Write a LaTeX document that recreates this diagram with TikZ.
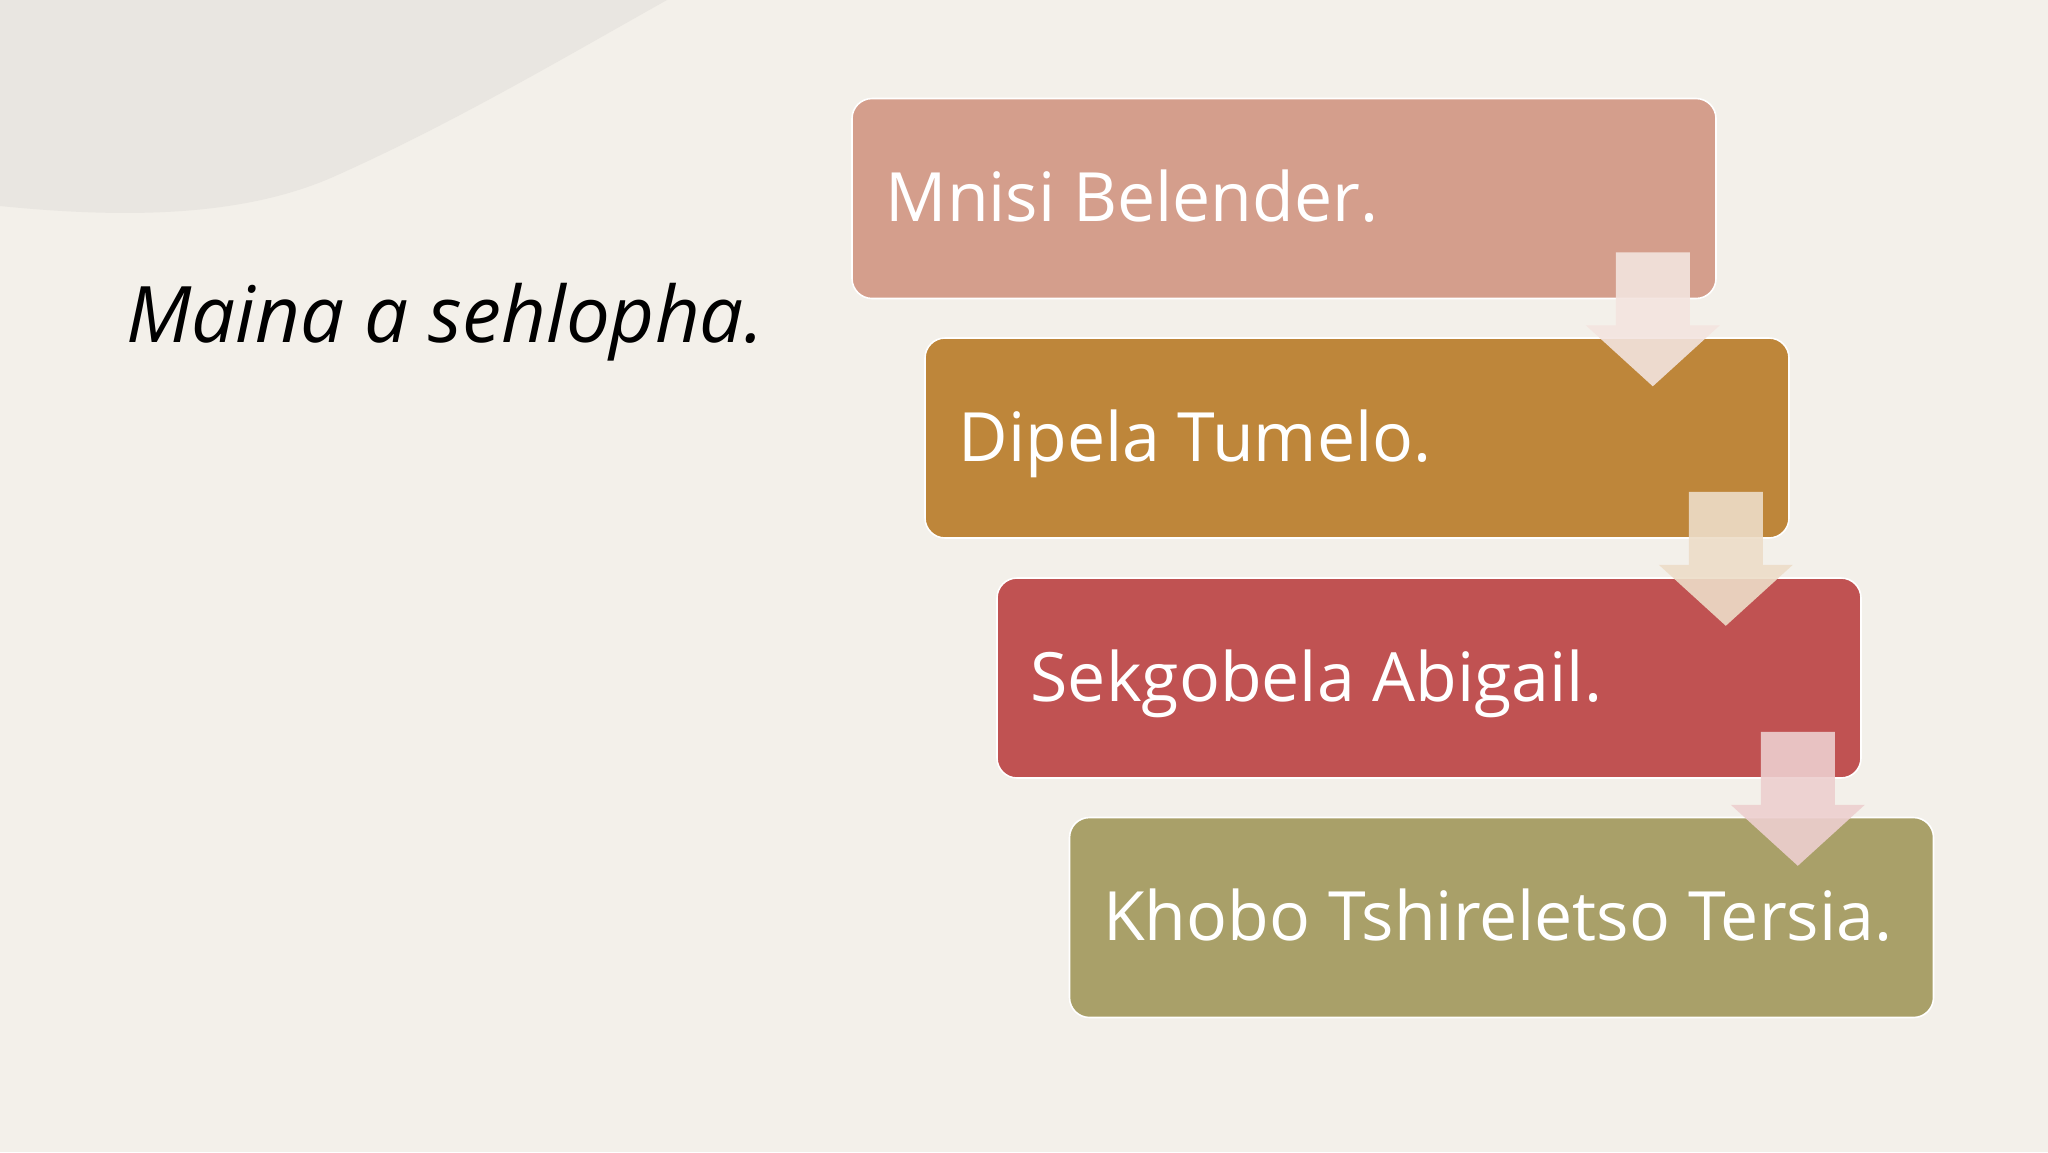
\documentclass[tikz,border=0pt]{standalone}
\usepackage{fontspec}
\setmainfont{Open Sans}
\usetikzlibrary{calc}
\definecolor{bgc}{HTML}{F3F0EA}
\definecolor{blobc}{HTML}{E9E6E1}
\definecolor{c1}{HTML}{D49E8C}
\definecolor{c2}{HTML}{BE863A}
\definecolor{c3}{HTML}{C05252}
\definecolor{c4}{HTML}{A9A069}
\tikzset{
  stepbox/.style={rectangle, rounded corners=10pt, draw=white, line width=0.8pt,
    minimum width=432pt, minimum height=100pt, inner sep=0pt},
  steptext/.style={anchor=base west, text=white, font=\fontsize{34}{40}\selectfont, inner sep=0pt},
  downarrow/.style={fill=#1!28!white, fill opacity=0.9, draw=none}
}
\begin{document}
\begin{tikzpicture}[x=0.5pt,y=-0.5pt]
\fill[bgc] (0,0) rectangle (2048,1152);
\useasboundingbox (0,0) rectangle (2048,1152);
\fill[blobc] (0,0) -- (667,0) .. controls (560,60) and (450,125) .. (333,177)
  .. controls (240,218) and (120,218) .. (0,206) -- cycle;
\node[anchor=base west, inner sep=0pt, font=\itshape\fontsize{39}{46}\selectfont] (title) at (126,342) {Maina a sehlopha.};
\node[stepbox, fill=c1] (b1) at (1284,198.5) {};
\node[stepbox, fill=c2] (b2) at (1357,438) {};
\node[stepbox, fill=c3] (b3) at (1429,678) {};
\node[stepbox, fill=c4] (b4) at (1501.5,917.5) {};
\node[steptext] (t1) at ($(b1.west)+(34,23)$) {Mnisi Belender.};
\node[steptext] (t2) at ($(b2.west)+(34,23)$) {Dipela Tumelo.};
\node[steptext] (t3) at ($(b3.west)+(34,23)$) {Sekgobela Abigail.};
\node[steptext] (t4) at ($(b4.west)+(34,23)$) {Khobo Tshireletso Tersia.};
\foreach \a/\b/\c in {b1/b2/c1, b2/b3/c2, b3/b4/c3}{
  \path[downarrow=\c] ($(\a.south east)+(-101,-47)$) -- ++(74,0) -- ++(0,73) -- ++(30,0)
    -- ++(-67,61) -- ++(-67,-61) -- ++(30,0) -- cycle;
}
\end{tikzpicture}
\end{document}
